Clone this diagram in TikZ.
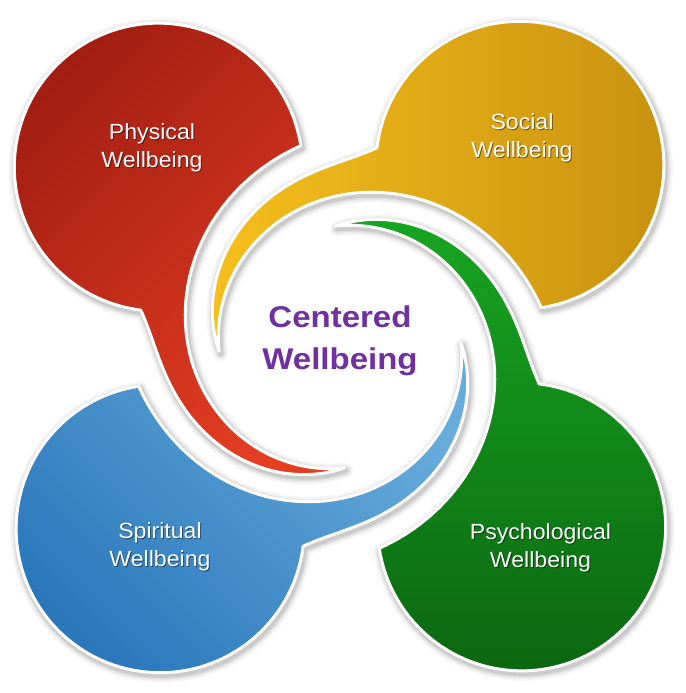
\documentclass[tikz,border=0pt]{standalone}
\usepackage{fontspec}
\setmainfont{Liberation Sans}
\newfontfamily\lblfont[FakeStretch=1.05]{Liberation Sans}
\newfontfamily\ctrfont[FakeStretch=1.1]{Liberation Sans}
\definecolor{redA}{HTML}{A31E12}
\definecolor{redB}{HTML}{E33D22}
\definecolor{yelA}{HTML}{F6BF1C}
\definecolor{yelB}{HTML}{C8910F}
\definecolor{grnA}{HTML}{17A521}
\definecolor{grnB}{HTML}{0B6610}
\definecolor{bluA}{HTML}{67ACDB}
\definecolor{bluB}{HTML}{2A77BB}
\definecolor{cwpurple}{HTML}{7030A0}
% one petal: tapering spiral arm + round blob, rotated by #1 degrees
\newcommand\petalpath[1]{%
 plot[domain=0:102.5, samples=70, variable=\t] ({#1+272-\t}:{121+0.655*\t+12*exp((\t-101)/8)})
 arc[start angle={#1+263}, end angle={#1+8.55}, radius=144]
 -- plot[domain=171:0, samples=90, variable=\t] ({#1+272-\t}:{121+0.15*\t+0.002*\t*\t})
 -- cycle}
\begin{document}
\begin{tikzpicture}[x=1pt,y=1pt,
  petalfill/.style={draw=white, line width=3pt, line join=round},
  petalshadow/.style={draw=black, line join=round, shift={(1.5,-2.5)}},
  lbl/.style={text=white, font=\lblfont\fontsize{22}{28}\selectfont, align=center},
  lblsh/.style={text=black, opacity=0.45, font=\lblfont\fontsize{22}{28}\selectfont, align=center},
  ctr/.style={text=cwpurple, font=\ctrfont\bfseries\fontsize{30}{42}\selectfont, align=center}]
\fill[white] (-340,-346) rectangle (345,347);
\useasboundingbox (-340,-346) rectangle (345,347);
% soft shadows of the four petals
\foreach \rot in {0,-90,-180,-270}{
  \foreach \lw/\op in {15/0.035,11/0.045,8/0.06,5/0.08}{
    \path[petalshadow, line width=\lw pt, draw opacity=\op] \petalpath{\rot};
  }
}
% petals
\shadedraw[petalfill, top color=redA, bottom color=redB, shading angle=45] \petalpath{0};
\shadedraw[petalfill, left color=yelA, right color=yelB] \petalpath{-90};
\shadedraw[petalfill, top color=grnA, bottom color=grnB] \petalpath{-180};
\shadedraw[petalfill, top color=bluA, bottom color=bluB, shading angle=-45] \petalpath{-270};
% labels
\node[lblsh] (physsh) at (-187,197.7) {Physical\\Wellbeing};
\node[lbl] (phys) at (-188,198.7) {Physical\\Wellbeing};
\node[lblsh] (socsh) at (183,207.7) {Social\\Wellbeing};
\node[lbl] (soc) at (182,208.7) {Social\\Wellbeing};
\node[lblsh] (spirsh) at (-179,-201.3) {Spiritual\\Wellbeing};
\node[lbl] (spir) at (-180,-200.3) {Spiritual\\Wellbeing};
\node[lblsh] (psysh) at (201.5,-202.3) {Psychological\\Wellbeing};
\node[lbl] (psy) at (200.5,-201.3) {Psychological\\Wellbeing};
\node[ctr] (center) at (0,5.8) {Centered\\Wellbeing};
\end{tikzpicture}
\end{document}
